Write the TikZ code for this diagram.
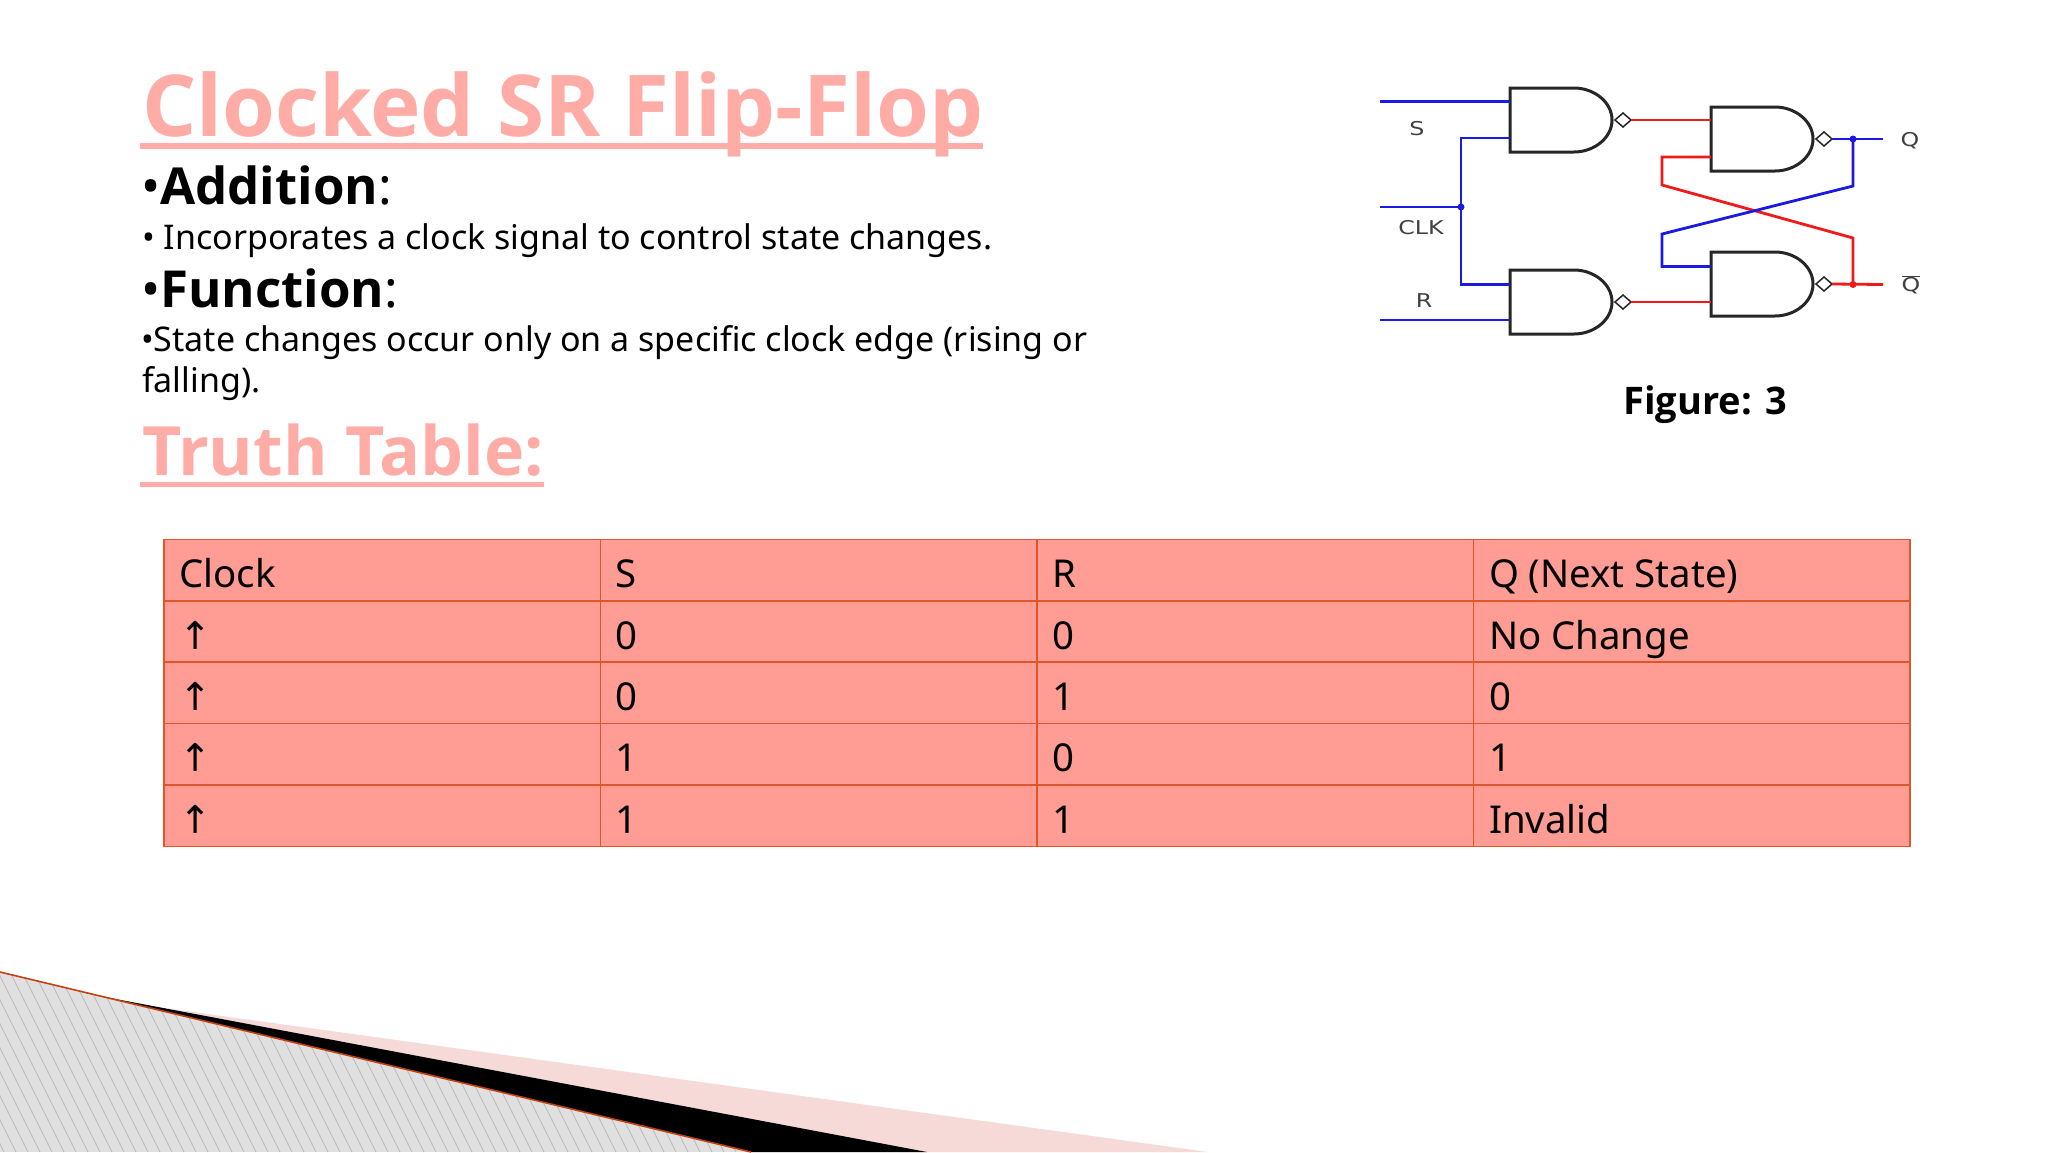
\documentclass[tikz,border=0pt]{standalone}
\usepackage{fontspec}
\setmainfont{Noto Sans}
\newfontfamily\hb{Open Sans}
\newfontfamily\arrowfont{DejaVu Sans}
\newfontfamily\labelfont{DejaVu Sans}
\usetikzlibrary{calc}
\definecolor{headpink}{HTML}{FFACA6}
\definecolor{cellfill}{HTML}{FF9C94}
\definecolor{cellline}{HTML}{E0562C}
\definecolor{hatchbase}{HTML}{E0E0E0}
\definecolor{hatchline}{HTML}{B9B9B9}
\definecolor{edgered}{HTML}{C2410F}
\definecolor{palepink}{HTML}{F5DAD8}
\definecolor{wireblue}{HTML}{1A1AE0}
\definecolor{wirered}{HTML}{F01A1A}
\newcommand{\fsz}[1]{\fontsize{#1}{#1}\selectfont}
\newcommand{\wide}[1]{\scalebox{1.25}[1]{#1}}
\newcommand{\hbold}[1]{{\hb\bfseries #1}}
\tikzset{
  txt/.style={inner sep=0pt,outer sep=0pt,anchor=base west,text=black},
  cellbox/.style={draw=cellline,line width=1.6pt,fill=cellfill,minimum width=436.6pt,minimum height=61.4pt,inner sep=0pt,anchor=north west},
  celltxt/.style={inner sep=0pt,anchor=base west,text=black,font=\fsz{38.4}},
  bluewire/.style={draw=wireblue,line width=2.8pt},
  redwire/.style={draw=wirered,line width=2.8pt},
  gateline/.style={draw=black!85,line width=3pt,line join=miter},
  bubble/.style={draw=black!85,line width=1.5pt,fill=white},
  sig/.style={inner sep=0pt,text=black!75,font=\labelfont\fsz{19}},
  dotblue/.style={circle,fill=wireblue,inner sep=0pt,minimum size=7pt},
  dotred/.style={circle,fill=wirered,inner sep=0pt,minimum size=7pt},
}
% gate: name, left x, top y (height 64, width 102)
\newcommand{\gate}[3]{%
  \draw[gateline] (#2,#3) -- ++(64,0) .. controls +(20,0) and +(0,-18) .. ++(38,32)
     .. controls +(0,18) and +(20,0) .. ++(-38,32) -- ++(-64,0) -- cycle;
  \coordinate (#1in1) at (#2,#3+14.5);
  \coordinate (#1in2) at (#2,#3+50);
  \coordinate (#1out) at (#2+121,#3+32);
  \draw[bubble] (#2+105,#3+32) -- ++(8,-7) -- ++(8,7) -- ++(-8,7) -- cycle;
}
\begin{document}
\begin{tikzpicture}[x=1pt,y=-1pt]
\useasboundingbox (0,0) rectangle (2048,1152);
\fill[white] (0,0) rectangle (2048,1152);

% bottom decoration
\fill[palepink] (168,1008.5) -- (1208,1152) -- (900,1152) -- cycle;
\fill[black] (105,997) -- (927,1152) -- (751,1152) -- cycle;
\begin{scope}
  \clip (0,972) -- (751,1152) -- (0,1152) -- cycle;
  \fill[hatchbase] (0,960) rectangle (760,1152);
  \foreach \i in {-10,...,70}
    \draw[hatchline,line width=0.7pt] (\i*12-20,960) -- ++(96,192);
\end{scope}
\draw[edgered,line width=1.6pt] (0,972) -- (751,1152);

% heading and text
\node[txt,text=headpink,font=\hb\bfseries\fsz{85.4}] (title) at (142,136) {Clocked SR Flip-Flop};
\draw[headpink,line width=6pt] ($(title.base west)+(-2,10)$) -- ($(title.base east)+(0,10)$);
\node[txt,font=\fsz{51}] (addition) at (141,204) {•\hbold{Addition}:};
\node[txt,font=\fsz{34}] (inc) at (142,249) {• Incorporates a clock signal to control state changes.};
\node[txt,font=\fsz{51}] (function) at (141,307) {•\hbold{Function}:};
\node[txt,font=\fsz{34}] (state) at (141,351) {•State changes occur only on a specific clock edge (rising or};
\node[txt,font=\fsz{34}] (falling) at (142,392) {falling).};
\node[txt,text=headpink,font=\hb\bfseries\fsz{68}] (truth) at (142,475) {Truth Table:};
\draw[headpink,line width=5pt] ($(truth.base west)+(-2,9)$) -- ($(truth.base east)+(0,9)$);
\node[inner sep=0pt,text=black,anchor=base,font=\hb\bfseries\fsz{38}] (figcap) at (1705,414) {Figure: 3};

% table
\foreach \c/\x in {0/163,1/599.6,2/1036.2,3/1472.8}
  \foreach \r/\y in {0/538.6,1/600,2/661.4,3/722.8,4/784.2}
    \node[cellbox] (cell\r\c) at (\x,\y) {};
\foreach \r/\a/\b/\d/\e in {0/Clock/S/R/Q (Next State),
    1/{\arrowfont ↑}/0/0/No Change,
    2/{\arrowfont ↑}/0/1/0,
    3/{\arrowfont ↑}/1/0/1,
    4/{\arrowfont ↑}/1/1/Invalid}{
  \node[celltxt] (t\r a) at ($(cell\r0.north west)+(16,49)$) {\a};
  \node[celltxt] (t\r b) at ($(cell\r1.north west)+(16,49)$) {\b};
  \node[celltxt] (t\r c) at ($(cell\r2.north west)+(16,49)$) {\d};
  \node[celltxt] (t\r d) at ($(cell\r3.north west)+(16,49)$) {\e};
}

% circuit
\gate{ga}{1510}{88}
\gate{gb}{1711}{107}
\gate{gc}{1510}{270}
\gate{gd}{1711}{252}
\coordinate (sin) at (1380,101.5);
\coordinate (clkin) at (1380,207);
\coordinate (rin) at (1380,320);
\node[dotblue] (clkdot) at (1461,207) {};
\node[dotblue] (qdot) at (1853,139) {};
\node[dotred] (nqdot) at (1853,284.5) {};
\coordinate (qend) at (1883,139);
\coordinate (nqend) at (1883,284.5);
\coordinate (qb1) at (1853,186);
\coordinate (qb2) at (1662,234);
\coordinate (nq1) at (1853,238);
\coordinate (nq2) at (1662,185);
\draw[bluewire] (sin) -- (sin -| gain1);
\draw[bluewire] (rin) -- (gcin2);
\draw[bluewire] (clkin) -- (clkdot.center);
\draw[bluewire] (gain2) -| (clkdot.center);
\draw[bluewire] (gcin1) -| (clkdot.center);
\draw[redwire] (gaout) -- (gaout -| gbin1);
\draw[redwire] (gcout) -- (gcout -| gdin2);
\draw[bluewire] (gbout) -- (qend);
\draw[redwire] (gdout) -- (nqend);
\draw[redwire,line join=miter] (gbin2) -| (nq2) -- (nq1) -- (nqdot.center);
\draw[bluewire,line join=miter] (qdot.center) -- (qb1) -- (qb2) |- (gdin1);
\node[sig] (lbS) at (1417,129) {\wide{S}};
\node[sig] (lbCLK) at (1421,228) {\wide{CLK}};
\node[sig] (lbR) at (1424,301) {\wide{R}};
\node[sig] (lbQ) at (1910,141) {\wide{Q}};
\node[sig] (lbNQ) at (1911,285) {\wide{$\overline{\mbox{Q}}$}};
\end{tikzpicture}
\end{document}
